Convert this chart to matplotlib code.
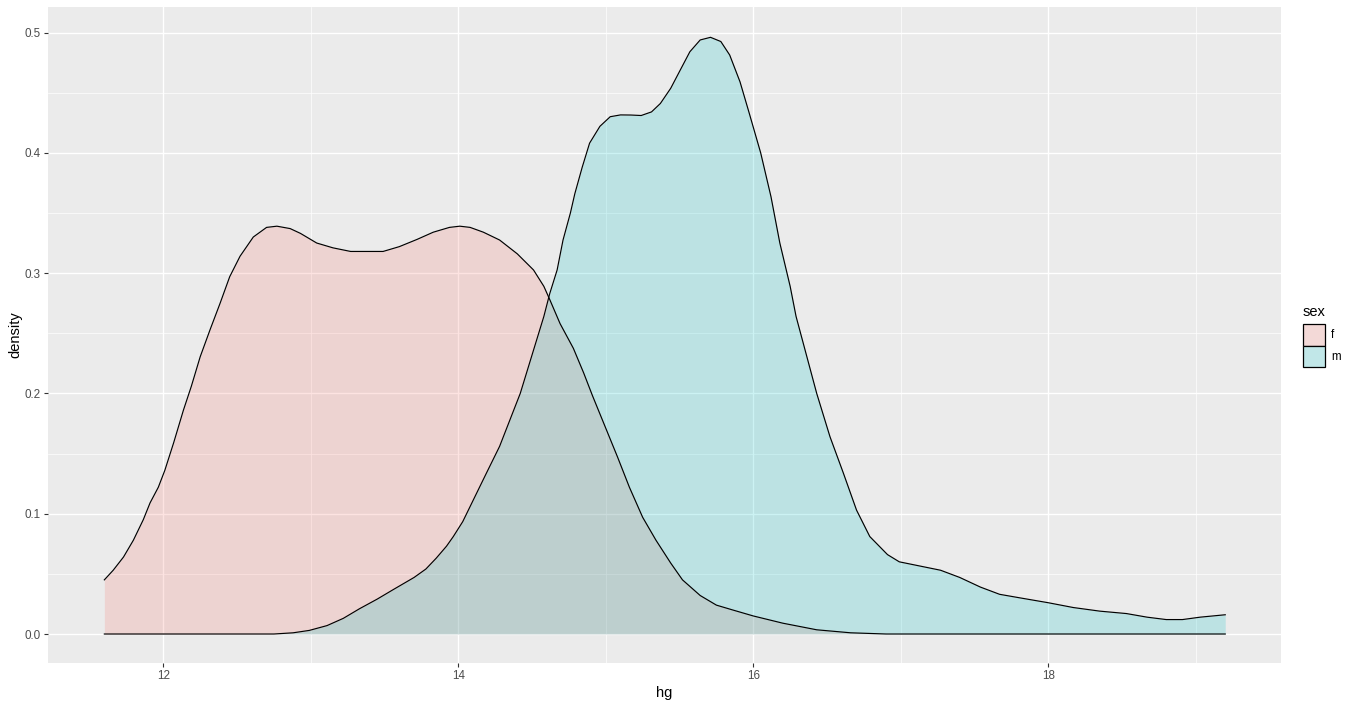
import matplotlib
matplotlib.use("Agg")
import matplotlib.pyplot as plt
from matplotlib.patches import Rectangle
from matplotlib.ticker import MultipleLocator

# ---- data ----
hg_f = [11.60, 11.66, 11.73, 11.797, 11.864, 11.91, 11.966, 12.01, 12.07, 12.136, 12.19, 12.25,
        12.317, 12.385, 12.45, 12.52, 12.61, 12.70, 12.77, 12.86, 12.93, 13.04, 13.15, 13.27,
        13.38, 13.49, 13.60, 13.72, 13.83, 13.94, 14.01, 14.08, 14.17, 14.28, 14.40, 14.51,
        14.58, 14.62, 14.69, 14.78, 14.85, 14.91, 15.00, 15.08, 15.16, 15.25, 15.34, 15.44,
        15.52, 15.64, 15.75, 15.86, 16.00, 16.20, 16.43, 16.66, 16.90, 19.20]
dens_f = [0.045, 0.053, 0.064, 0.078, 0.095, 0.109, 0.122, 0.136, 0.159, 0.186, 0.206, 0.2305,
          0.253, 0.275, 0.297, 0.314, 0.330, 0.338, 0.339, 0.337, 0.333, 0.325, 0.321, 0.318,
          0.318, 0.318, 0.322, 0.328, 0.334, 0.338, 0.339, 0.338, 0.334, 0.3275, 0.316, 0.3026,
          0.289, 0.278, 0.258, 0.2375, 0.217, 0.198, 0.171, 0.147, 0.122, 0.097, 0.078, 0.059,
          0.045, 0.032, 0.024, 0.020, 0.015, 0.009, 0.0035, 0.001, 0.0, 0.0]

hg_m = [11.60, 12.75, 12.88, 12.99, 13.11, 13.22, 13.33, 13.45, 13.56, 13.70, 13.78, 13.85,
        13.92, 13.966, 14.03, 14.10, 14.19, 14.28, 14.35, 14.42, 14.49, 14.53, 14.58, 14.62,
        14.67, 14.71, 14.76, 14.79, 14.84, 14.89, 14.96, 15.03, 15.10, 15.17, 15.24, 15.31,
        15.37, 15.44, 15.51, 15.57, 15.64, 15.71, 15.78, 15.84, 15.91, 15.97, 16.05, 16.12,
        16.18, 16.25, 16.29, 16.36, 16.43, 16.52, 16.61, 16.70, 16.79, 16.91, 16.99, 17.11,
        17.27, 17.40, 17.54, 17.67, 17.81, 18.00, 18.17, 18.35, 18.53, 18.67, 18.80, 18.91,
        19.03, 19.20]
dens_m = [0.0, 0.0, 0.001, 0.003, 0.007, 0.013, 0.021, 0.029, 0.037, 0.047, 0.054, 0.063,
          0.073, 0.081, 0.0934, 0.111, 0.1336, 0.156, 0.178, 0.200, 0.228, 0.244, 0.264, 0.283,
          0.3026, 0.3275, 0.350, 0.366, 0.388, 0.408, 0.422, 0.430, 0.4315, 0.4314, 0.431, 0.434,
          0.441, 0.4536, 0.470, 0.484, 0.4938, 0.496, 0.4925, 0.4813, 0.459, 0.434, 0.400, 0.3635,
          0.325, 0.289, 0.264, 0.232, 0.200, 0.164, 0.134, 0.103, 0.081, 0.066, 0.060, 0.057,
          0.053, 0.047, 0.039, 0.033, 0.030, 0.026, 0.022, 0.019, 0.017, 0.014, 0.012, 0.012,
          0.014, 0.016]

groups = ["f", "m"]
colors = ["#F8766D", "#00BFC4"]
x_ticks = [12, 14, 16, 18]
y_ticks = [0.0, 0.1, 0.2, 0.3, 0.4, 0.5]

plt.rcParams['font.family'] = ['Liberation Sans', 'DejaVu Sans']

W, H = 1358, 708
fig = plt.figure(figsize=(W / 100, H / 100), dpi=100)
L, R, T, B = 48, 1281, 7, 663
ax = fig.add_axes([L / W, 1 - B / H, (R - L) / W, (B - T) / H])
ax.set_facecolor("#EBEBEB")
for s in ax.spines.values():
    s.set_visible(False)

ax.set_xlim(11.218, 19.578)
ax.set_ylim(-0.0241, 0.5212)
ax.set_xticks(x_ticks)
ax.set_xticklabels([str(v) for v in x_ticks])
ax.set_yticks(y_ticks)
ax.set_yticklabels([f"{v:.1f}" for v in y_ticks])
ax.xaxis.set_minor_locator(MultipleLocator(1))
ax.yaxis.set_minor_locator(MultipleLocator(0.05))
ax.grid(which="major", color="white", linewidth=1.0)
ax.grid(which="minor", color="white", linewidth=0.5)
ax.set_axisbelow(True)
ax.tick_params(which="major", length=2.7, width=0.8, color="#333333",
               labelcolor="#4D4D4D", labelsize=8.4, pad=2.5)
ax.tick_params(which="minor", length=0)

for xs, ys, c in [(hg_f, dens_f, colors[0]), (hg_m, dens_m, colors[1])]:
    ax.fill_between(xs, 0, ys, color=c, alpha=0.2, linewidth=0)
    ax.plot(xs, ys, color="black", linewidth=0.85, solid_joinstyle="round")

fig.text((L + R) / 2 / W, 1 - 693 / H, "hg", ha="center", va="center", fontsize=10.5)
fig.text(15 / W, 1 - (T + B) / 2 / H, "density", ha="center", va="center",
         rotation=90, fontsize=10.5)

# legend
fig.text(1303 / W, 1 - 312 / H, "sex", ha="left", va="center", fontsize=10.5)
box_tops = [324, 346]
for g, c, top in zip(groups, colors, box_tops):
    x0, w, h = 1303, 21.5, 21.5
    rect_bg = Rectangle((x0 / W, 1 - (top + h) / H), w / W, h / H, transform=fig.transFigure,
                        facecolor="#F2F2F2", edgecolor="none")
    rect = Rectangle((x0 / W, 1 - (top + h) / H), w / W, h / H, transform=fig.transFigure,
                     facecolor=matplotlib.colors.to_rgba(c, 0.2), edgecolor="black", linewidth=0.9)
    fig.patches.extend([rect_bg, rect])
    fig.text(1331 / W, 1 - (top + h / 2) / H, g, ha="left", va="center", fontsize=8.4)

fig.savefig("out.png", dpi=100)
